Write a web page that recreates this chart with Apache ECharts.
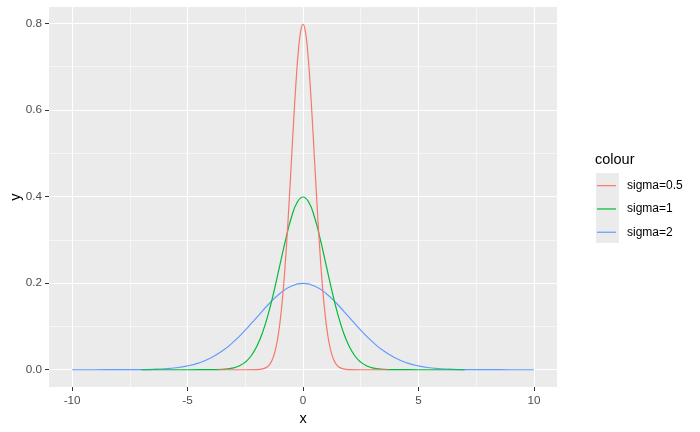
<!DOCTYPE html>
<html><head><meta charset="utf-8">
<script src="https://cdn.jsdelivr.net/npm/echarts@6/dist/echarts.min.js"></script>
<style>html,body{margin:0;padding:0;background:#fff}#c{width:700px;height:432px}</style>
</head><body><div id="c"></div><script>
const seriesNames = ['sigma=0.5', 'sigma=1', 'sigma=2'];
const seriesColors = ['#F8766D', '#00BA38', '#619CFF'];

const xRed = [-3.7,-3,-2.5,-2,-1.8,-1.6,-1.5,-1.4,-1.3,-1.2,-1.1,-1,-0.9,-0.8,-0.7,-0.6,-0.5,-0.4,-0.3,-0.2,-0.1,0,0.1,0.2,0.3,0.4,0.5,0.6,0.7,0.8,0.9,1,1.1,1.2,1.3,1.4,1.5,1.6,1.8,2,2.5,3,3.7];
const yRed = [0,0,0,0.0003,0.0012,0.0048,0.0089,0.0158,0.0272,0.0448,0.0709,0.1080,0.1579,0.2218,0.2995,0.3884,0.4839,0.5794,0.6664,0.7366,0.7821,0.7979,0.7821,0.7366,0.6664,0.5794,0.4839,0.3884,0.2995,0.2218,0.1579,0.1080,0.0709,0.0448,0.0272,0.0158,0.0089,0.0048,0.0012,0.0003,0,0,0];

const xGreen = [-7,-6,-5,-4,-3.5,-3,-2.75,-2.5,-2.25,-2,-1.75,-1.5,-1.25,-1,-0.75,-0.5,-0.25,0,0.25,0.5,0.75,1,1.25,1.5,1.75,2,2.25,2.5,2.75,3,3.5,4,5,6,7];
const yGreen = [0,0,0,0.0001,0.0009,0.0044,0.0091,0.0175,0.0317,0.0540,0.0863,0.1295,0.1826,0.2420,0.3011,0.3521,0.3867,0.3989,0.3867,0.3521,0.3011,0.2420,0.1826,0.1295,0.0863,0.0540,0.0317,0.0175,0.0091,0.0044,0.0009,0.0001,0,0,0];

const xBlue = [-10,-9,-8,-7,-6.5,-6,-5.5,-5,-4.5,-4,-3.5,-3,-2.5,-2,-1.5,-1,-0.5,0,0.5,1,1.5,2,2.5,3,3.5,4,4.5,5,5.5,6,6.5,7,8,9,10];
const yBlue = [0,0,0.0001,0.0004,0.0010,0.0022,0.0045,0.0088,0.0159,0.0270,0.0431,0.0648,0.0913,0.1210,0.1506,0.1760,0.1933,0.1995,0.1933,0.1760,0.1506,0.1210,0.0913,0.0648,0.0431,0.0270,0.0159,0.0088,0.0045,0.0022,0.0010,0.0004,0.0001,0,0];

const xTicks = [-10, -5, 0, 5, 10];
const xMinor = [-7.5, -2.5, 2.5, 7.5];
const yTicks = [0, 0.2, 0.4, 0.6, 0.8];
const yMinor = [0.1, 0.3, 0.5, 0.7];

const pairs = (xs, ys) => xs.map((x, i) => [x, ys[i]]);
const FONT = 'Liberation Sans, Arial, sans-serif';

const gridLines = [
  ...xMinor.map(v => ({ xAxis: v, lineStyle: { width: 0.55 } })),
  ...yMinor.map(v => ({ yAxis: v, lineStyle: { width: 0.55 } })),
  ...xTicks.map(v => ({ xAxis: v, lineStyle: { width: 1.1 } })),
  ...yTicks.map(v => ({ yAxis: v, lineStyle: { width: 1.1 } }))
];

const chart = echarts.init(document.getElementById('c'), null, { renderer: 'canvas' });
chart.setOption({
  animation: false,
  textStyle: { fontFamily: FONT },
  title: {
    text: 'colour', left: 595, top: 152, padding: 0,
    textStyle: { fontFamily: FONT, fontSize: 14.5, fontWeight: 'normal', color: '#000' }
  },
  grid: {
    left: 49, right: 143, top: 7, bottom: 45,
    containLabel: false, outerBoundsMode: 'none',
    show: true, backgroundColor: '#EBEBEB', borderWidth: 0
  },
  graphic: [{
    type: 'rect', left: 596, top: 173, shape: { width: 23, height: 70 },
    style: { fill: '#EBEBEB' }, z: -1
  }],
  legend: {
    data: seriesNames,
    orient: 'vertical', left: 597, top: 174, padding: 0, itemGap: 0,
    icon: 'rect', itemWidth: 19, itemHeight: 1.2,
    textStyle: { fontFamily: FONT, fontSize: 12, color: '#000', lineHeight: 23.3, padding: [0, 0, 0, 6] },
    selectedMode: false
  },
  xAxis: {
    type: 'value', min: -11, max: 11,
    name: 'x', nameLocation: 'middle', nameGap: 24, nameMoveOverlap: false,
    nameTextStyle: { fontFamily: FONT, fontSize: 14.5, color: '#000' },
    axisLine: { show: false, onZero: false },
    axisTick: { show: true, length: 4, customValues: xTicks, lineStyle: { color: '#333333', width: 1 } },
    axisLabel: { customValues: xTicks, margin: 8, fontFamily: FONT, fontSize: 11.7, color: '#4D4D4D' },
    splitLine: { show: false }
  },
  yAxis: {
    type: 'value', min: -0.0399, max: 0.8378,
    name: 'y', nameLocation: 'middle', nameGap: 26, nameRotate: 90, nameMoveOverlap: false,
    nameTextStyle: { fontFamily: FONT, fontSize: 14.5, color: '#000' },
    axisLine: { show: false, onZero: false },
    axisTick: { show: true, length: 4, customValues: yTicks, lineStyle: { color: '#333333', width: 1 } },
    axisLabel: { customValues: yTicks, margin: 7, fontFamily: FONT, fontSize: 11.7, color: '#4D4D4D',
      formatter: v => Number(v).toFixed(1) },
    splitLine: { show: false }
  },
  series: [
    {
      name: '_grid', type: 'line', data: [], z: 0, silent: true,
      markLine: {
        z: 0, silent: true, symbol: ['none', 'none'], label: { show: false },
        lineStyle: { color: '#FFFFFF', type: 'solid' }, animation: false,
        data: gridLines
      }
    },
    {
      name: seriesNames[2], type: 'line', data: pairs(xBlue, yBlue), smooth: true,
      showSymbol: false, color: seriesColors[2], lineStyle: { width: 1.2, color: seriesColors[2] }, z: 10
    },
    {
      name: seriesNames[1], type: 'line', data: pairs(xGreen, yGreen), smooth: true,
      showSymbol: false, color: seriesColors[1], lineStyle: { width: 1.2, color: seriesColors[1] }, z: 11
    },
    {
      name: seriesNames[0], type: 'line', data: pairs(xRed, yRed), smooth: true,
      showSymbol: false, color: seriesColors[0], lineStyle: { width: 1.2, color: seriesColors[0] }, z: 12
    }
  ]
});
</script></body></html>
